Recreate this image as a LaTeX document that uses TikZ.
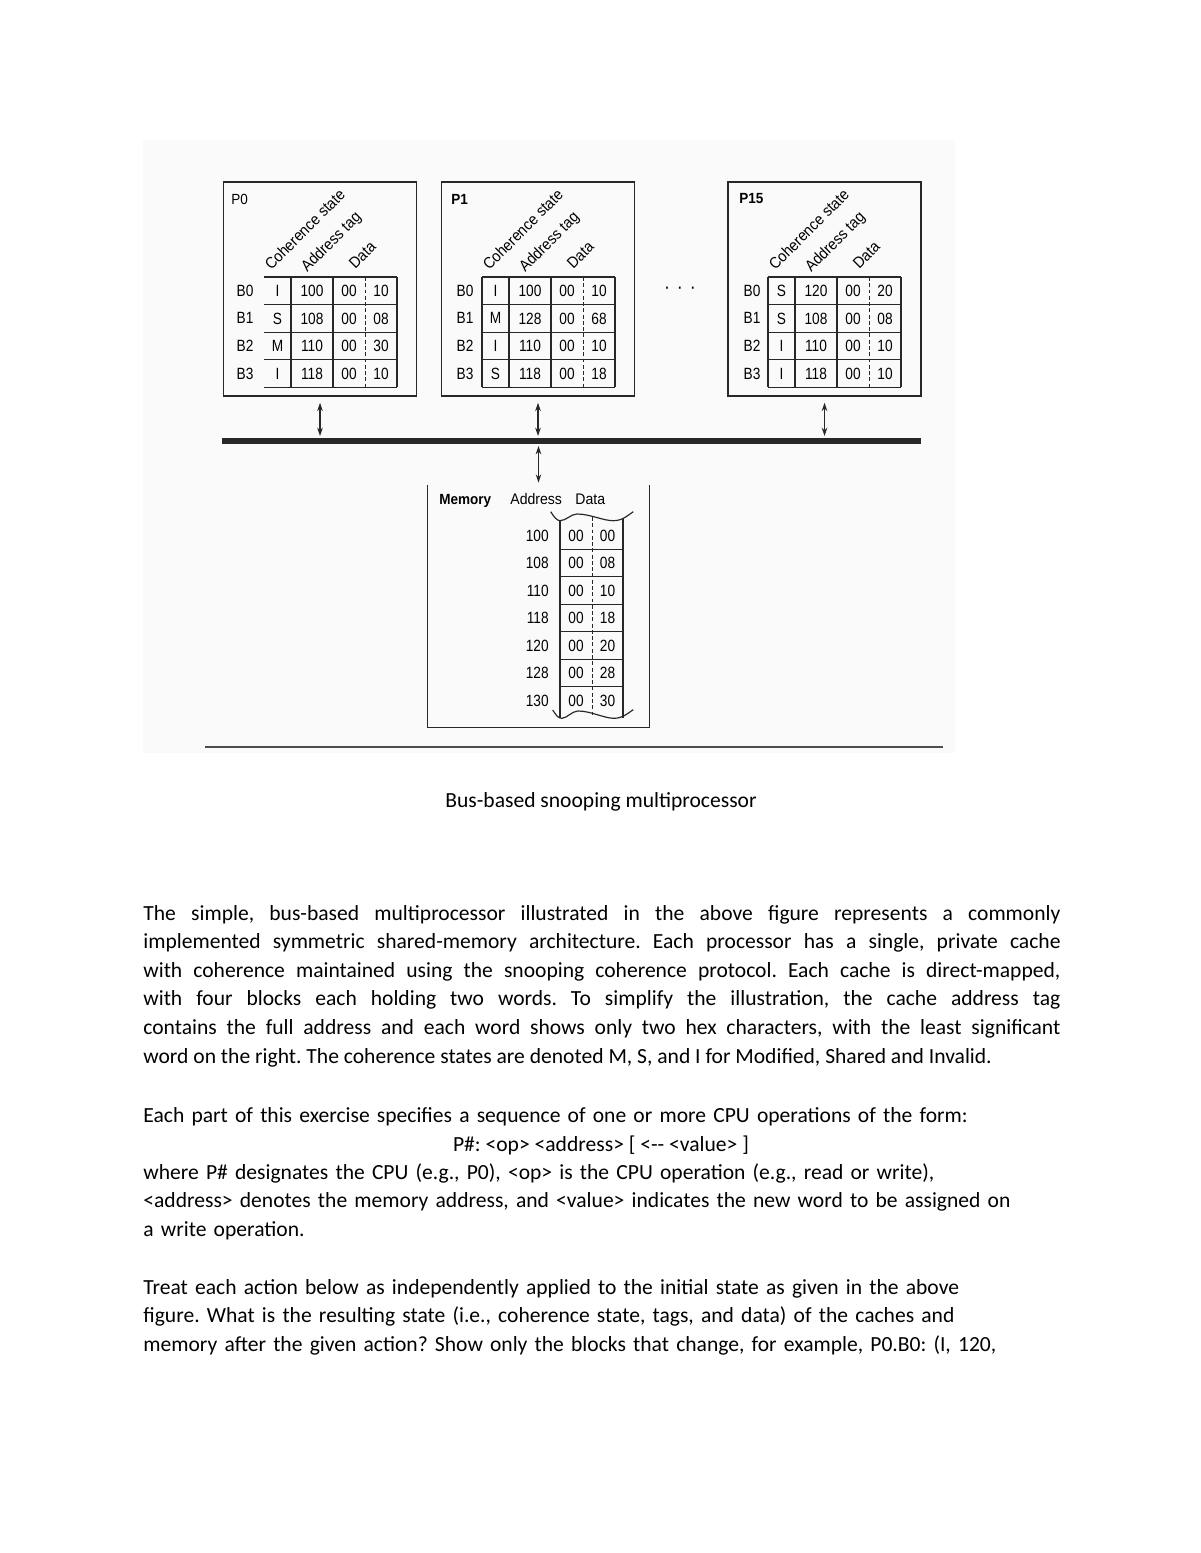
\documentclass[tikz,border=0pt]{standalone}
\usepackage{fontspec}
\setmainfont{Carlito}
\newfontfamily\figfont[FakeStretch=0.92]{Liberation Sans}
\newfontfamily\cellfont[FakeStretch=0.84]{Liberation Sans}
\usetikzlibrary{arrows.meta, calc, positioning}
\frenchspacing

\definecolor{figline}{RGB}{40, 40, 40}
\definecolor{figback}{RGB}{250, 250, 250}

\begin{document}
\begin{tikzpicture}[x=0.51pt, y=-0.51pt,
  cachebox/.style={draw=figline, line width=0.8pt, minimum width=98.4pt, minimum height=109.1pt, inner sep=0pt},
  cell/.style={font=\cellfont\fontsize{8.3}{9}\selectfont, inner sep=0pt},
  plabel/.style={font=\figfont\bfseries\fontsize{7.5}{9}\selectfont, anchor=west, inner sep=0pt},
  colhead/.style={font=\figfont\fontsize{8}{9}\selectfont, rotate=45, anchor=base west, inner sep=0pt},
  grid/.style={draw=figline, line width=0.6pt},
  halfline/.style={draw=figline, line width=0.45pt, dash pattern=on 2pt off 1.2pt},
  biarrow/.style={{Stealth[length=4.2pt, width=2.8pt]}-{Stealth[length=4.2pt, width=2.8pt]}, line width=0.55pt, figline},
  bodytext/.style={font=\fontsize{11}{14.6}\selectfont, inner sep=0pt, anchor=base west}
]
  \useasboundingbox (0,0) rectangle (1200,1553);
  \fill[white] (0,0) rectangle (1200,1553);
  \fill[figback] (143,140) rectangle (955,753);

  % Caches
  \node[cachebox] (p0) at (320,289) {};
  \node[plabel, font=\figfont\fontsize{7.5}{9}\selectfont] (p0lbl) at (231,199) {P0};
  \node[cachebox] (p1) at (538,289) {};
  \node[plabel] (p1lbl) at (451,199) {P1};
  \node[cachebox] (p15) at (824.5,289) {};
  \node[plabel] (p15lbl) at (739,199) {P15};

  \node[cell, font=\figfont\fontsize{10}{10}\selectfont] (dots) at (680,290) {·\hspace{3.5pt}·\hspace{3.5pt}·};

  % P0 table (no left border)
  \begin{scope}[shift={(264,0)}]
    \foreach \k in {0,...,4} \draw[grid] (0,{277+27.6*\k}) -- (133,{277+27.6*\k});
    \foreach \xx in {27,69,133} \draw[grid] (\xx,277) -- (\xx,387.4);
    \draw[halfline] (101,277) -- (101,387.4);
    \node[colhead] (p0hcs) at (7,271) {Coherence state};
    \node[colhead] (p0hat) at (43,273) {Address tag};
    \node[colhead] (p0hd) at (91,270) {Data};
    \foreach \r/\st/\tag/\hi/\lo in {0/I/100/00/10, 1/S/108/00/08, 2/M/110/00/30, 3/I/118/00/10} {
      \node[cell] (p0b\r) at (-19,{290.8+27.6*\r}) {B\r};
      \node[cell] (p0s\r) at (13.5,{290.8+27.6*\r}) {\st};
      \node[cell] (p0t\r) at (48,{290.8+27.6*\r}) {\tag};
      \node[cell] (p0h\r) at (85,{290.8+27.6*\r}) {\hi};
      \node[cell] (p0l\r) at (117,{290.8+27.6*\r}) {\lo};
    }
  \end{scope}

  % P1 table
  \begin{scope}[shift={(482,0)}]
    \foreach \k in {0,...,4} \draw[grid] (0,{277+27.6*\k}) -- (133,{277+27.6*\k});
    \foreach \xx in {0,27,69,133} \draw[grid] (\xx,277) -- (\xx,387.4);
    \draw[halfline] (101,277) -- (101,387.4);
    \node[colhead] (p1hcs) at (7,271) {Coherence state};
    \node[colhead] (p1hat) at (43,273) {Address tag};
    \node[colhead] (p1hd) at (91,270) {Data};
    \foreach \r/\st/\tag/\hi/\lo in {0/I/100/00/10, 1/M/128/00/68, 2/I/110/00/10, 3/S/118/00/18} {
      \node[cell] (p1b\r) at (-17,{290.8+27.6*\r}) {B\r};
      \node[cell] (p1s\r) at (13.5,{290.8+27.6*\r}) {\st};
      \node[cell] (p1t\r) at (48,{290.8+27.6*\r}) {\tag};
      \node[cell] (p1h\r) at (85,{290.8+27.6*\r}) {\hi};
      \node[cell] (p1l\r) at (117,{290.8+27.6*\r}) {\lo};
    }
  \end{scope}

  % P15 table
  \begin{scope}[shift={(768,0)}]
    \foreach \k in {0,...,4} \draw[grid] (0,{277+27.6*\k}) -- (133,{277+27.6*\k});
    \foreach \xx in {0,27,69,133} \draw[grid] (\xx,277) -- (\xx,387.4);
    \draw[halfline] (101,277) -- (101,387.4);
    \node[colhead] (p15hcs) at (7,271) {Coherence state};
    \node[colhead] (p15hat) at (43,273) {Address tag};
    \node[colhead] (p15hd) at (91,270) {Data};
    \foreach \r/\st/\tag/\hi/\lo in {0/S/120/00/20, 1/S/108/00/08, 2/I/110/00/10, 3/I/118/00/10} {
      \node[cell] (p15b\r) at (-16,{290.8+27.6*\r}) {B\r};
      \node[cell] (p15s\r) at (13.5,{290.8+27.6*\r}) {\st};
      \node[cell] (p15t\r) at (48,{290.8+27.6*\r}) {\tag};
      \node[cell] (p15h\r) at (85,{290.8+27.6*\r}) {\hi};
      \node[cell] (p15l\r) at (117,{290.8+27.6*\r}) {\lo};
    }
  \end{scope}

  % Bus
  \coordinate (busw) at (222,441);
  \coordinate (buse) at (921,441);
  \draw[line width=3.2pt, figline] (busw) -- (buse);
  \draw[biarrow] ($(p0.south)+(0,6)$) -- ($(p0.south |- busw)+(0,-5)$);
  \draw[biarrow] ($(p1.south)+(0,6)$) -- ($(p1.south |- busw)+(0,-5)$);
  \draw[biarrow] ($(p15.south)+(0,6)$) -- ($(p15.south |- busw)+(0,-5)$);

  % Memory
  \node[minimum width=112.7pt, minimum height=123.4pt, inner sep=0pt] (mem) at (538.5,606) {};
  \draw[figline, line width=0.8pt] (mem.north west) -- (mem.south west) -- (mem.south east) -- (mem.north east);
  \draw[biarrow] ($(mem.north |- busw)+(0,5)$) -- ($(mem.north)+(0,-2)$);
  \node[cell, font=\figfont\bfseries\fontsize{7.5}{9}\selectfont, anchor=base west] (memlbl) at (439,504) {Memory};
  \node[cell, font=\figfont\fontsize{7.8}{9}\selectfont, anchor=base west] (memaddr) at (510,504) {Address};
  \node[cell, font=\figfont\fontsize{7.8}{9}\selectfont, anchor=base west] (memdata) at (575,504) {Data};

  \begin{scope}[shift={(560,0)}]
    \foreach \k in {0,...,5} \draw[grid] (0,{549.2+27.5*\k}) -- (63,{549.2+27.5*\k});
    \draw[grid] (0,520.5) -- (0,718);
    \draw[grid] (63,518) -- (63,718);
    \draw[halfline] (32,517) -- (32,716);
    % broken ends
    \draw[grid] (-9.3,511.7) .. controls (-6,517) and (-3,520.7) .. (0,520.7)
      .. controls (6,520.7) and (11,514) .. (17,514)
      .. controls (30,514) and (43,520.7) .. (53.3,520.7)
      .. controls (63,520.7) and (68,515) .. (73.3,511.7);
    \draw[grid] (-7.3,710) .. controls (-4,715) and (-2,718.3) .. (1.7,718.3)
      .. controls (7,718.3) and (12,711) .. (18,711)
      .. controls (31,711) and (44,718.3) .. (54,718.3)
      .. controls (63,718.3) and (68,713) .. (73.3,709.7);
    \foreach \k/\addr/\lo in {0/100/00, 1/108/08, 2/110/10, 3/118/18, 4/120/20, 5/128/28, 6/130/30} {
      \node[cell, anchor=east] (mema\k) at (-11,{535.5+27.5*\k}) {\addr};
      \node[cell] (memh\k) at (16,{535.5+27.5*\k}) {00};
      \node[cell] (meml\k) at (47.5,{535.5+27.5*\k}) {\lo};
    }
  \end{scope}

  \draw[line width=1pt, black!70] (205,747) -- (943,747);

  % Caption and text
  \node[bodytext, anchor=base] (caption) at (601,807) {Bus-based snooping multiprocessor};

  \node[bodytext, text width=467.7pt, align=justify] (para1) at (143,920) {\tolerance=9999 The simple, bus-based multiprocessor illustrated in the above figure represents a commonly\linebreak implemented symmetric shared-memory architecture. Each processor has a single, private cache\linebreak with coherence maintained using the snooping coherence protocol. Each cache is direct-mapped,\linebreak with four blocks each holding two words. To simplify the illustration, the cache address tag\linebreak contains the full address and each word shows only two hex characters, with the least significant\linebreak word on the right. The coherence states are denoted M, S, and I for Modified, Shared and Invalid.};

  \node[bodytext, text width=520pt, align=left] (para2) at (143,1122) {Each part of this exercise specifies a sequence of one or more CPU operations of the form:};
  \node[bodytext, anchor=base] (opform) at (601,1151) {P\#: <op> <address> [ <-{}- <value> ]};
  \node[bodytext, text width=520pt, align=left] (para2b) at (143,1179) {where P\# designates the CPU (e.g., P0), <op> is the CPU operation (e.g., read or write),\\ <address> denotes the memory address, and <value> indicates the new word to be assigned on\\ a write operation.};

  \node[bodytext, text width=520pt, align=left] (para3) at (143,1294) {Treat each action below as independently applied to the initial state as given in the above\\ figure. What is the resulting state (i.e., coherence state, tags, and data) of the caches and\\ memory after the given action? Show only the blocks that change, for example, P0.B0: (I, 120,};
\end{tikzpicture}
\end{document}
